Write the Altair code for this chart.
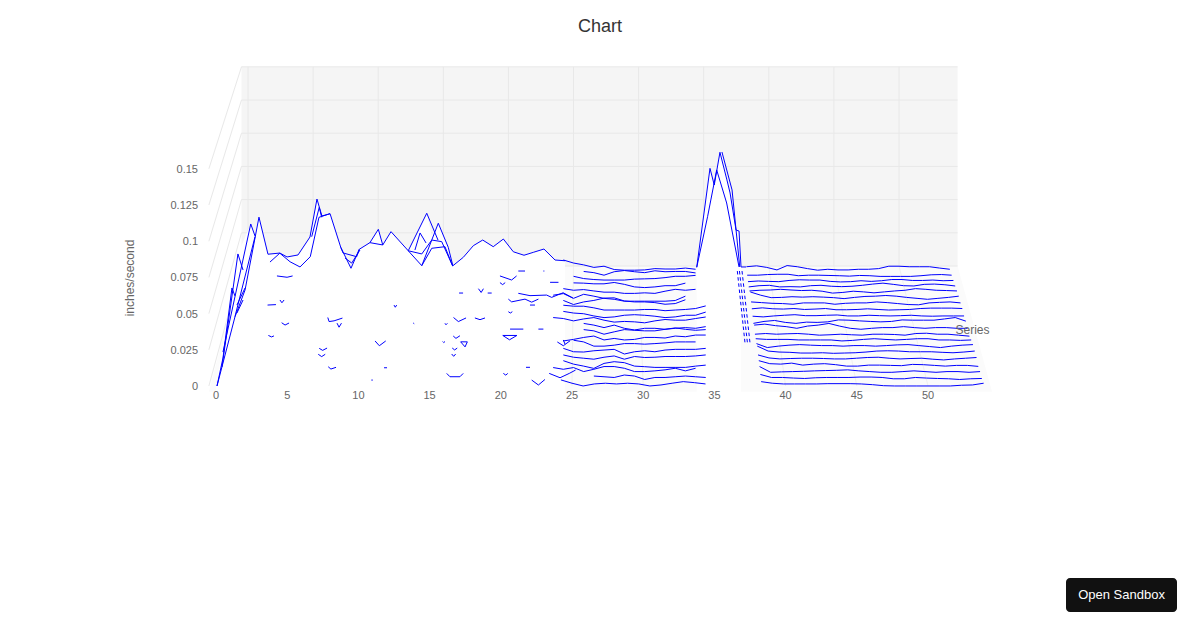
import altair as alt
import pandas as pd

# ---------- data: every value is in 1e-4 inches/second ----------
STEP = 0.78125           # category spacing of samples
N_SERIES = 20

# rows: series index -> (first sample index, values) in the band before the peak
rows_mid = {
    19: (31, [77,54,40,21,30,5,0,0,2,12,9,9,16,7]),
    18: (33, [37,28,9,35,44,35,28,42,35,37,37,26]),
    17: (32, [47,30,23,19,19,19,26,28,30,37,47,47,54]),
    16: (32, [44,42,37,37,47,33,14,9,14,23,23,42]),
    15: (31, [47,35,40,30,21,21,12,12,16,12,28,42,35,42]),
    14: (30, [44,56,21,51,37,21,14,0,0,0,0,0,5,37]),
    13: (31, [51,21,40,51,68,70,47,40,40,35,23,28,56]),
    12: (31, [61,54,54,42,26,26,26,26,30,30,21,26,30,37,56]),
    11: (31, [61,49,44,28,16,21,33,37,33,26,16,21,33,33,56]),
    10: (30, [61,54,37,51,61,42,28,33,30,23,37,47,42,42,54,65]),
    9:  (33, [63,51,33,51,28,16,28,28,21,28,33,28,40]),
    8:  (33, [63,54,30,47,63,58,54,54,65,75,65,58,63]),
    7:  (31, [26,37,51,61,33,44,33,37,51,51,47,61,56,68,68]),
    6:  (32, [75,63,33,33,40,51,51,47,51,56,63,63,63]),
    5:  (31, [61,37,35,44,49,54,21,37,44,37,49,54,54,54,61]),
    4:  (31, [58,42,35,28,42,51,28,47,40,42,47,47,47,51,58]),
    3:  (31, [61,37,23,7,42,54,47,23,19,14,14,14,14,23,30]),
    2:  (30, [56,44,56,28,44,63,63,51,28,28,33,40,51,33,51]),
    1:  (34, [40,35,30,47,40,16,30,30,35,40,35,30]),
    0:  (31, [56,33,14,28,33,28,33,28,14,21,33,44,37,28]),
}

# rows after the peak: samples 49..69
rows_right = {
    19: [26,33,21,2,35,26,12,0,7,2,2,7,7,12,30,30,26,26,26,16,7],
    18: [9,9,14,16,16,5,9,9,7,5,2,7,5,0,0,0,0,5,12,14,9],
    17: [7,12,9,7,16,21,19,19,9,5,7,14,9,14,23,23,16,16,19,14,16],
    16: [14,23,26,14,16,14,23,26,19,16,19,26,35,42,33,23,21,33,35,30,21],
    15: [30,35,37,42,37,33,35,28,14,19,28,23,16,23,30,35,47,42,35,33,30],
    14: [68,44,26,28,33,30,33,30,26,19,28,35,37,42,37,28,21,14,21,28,37],
    13: [40,35,30,28,23,33,33,33,23,30,33,33,40,35,28,21,19,33,37,40,33],
    12: [35,42,35,33,37,30,33,37,28,28,30,35,30,26,28,30,37,40,40,40,37],
    11: [26,21,28,33,37,30,30,33,35,28,28,33,30,28,30,33,28,26,28,28,28],
    10: [19,33,40,26,19,28,26,30,44,42,37,33,30,33,44,42,42,42,51,61,35],
    9:  [51,58,47,40,28,44,51,63,44,28,21,28,33,33,40,33,28,33,33,28,28],
    8:  [30,35,30,33,35,30,23,26,30,26,23,30,30,28,23,35,37,30,30,23,16],
    7:  [42,37,37,37,33,33,33,33,26,30,37,42,37,33,37,42,42,33,33,30,33],
    6:  [51,23,33,40,44,40,37,37,33,37,37,33,37,42,44,37,30,23,33,40,44],
    5:  [77,42,35,33,28,28,30,26,28,30,35,42,44,42,37,37,37,33,30,35,42],
    4:  [58,37,30,33,35,35,33,30,30,35,40,42,35,30,33,35,28,23,30,35,40],
    3:  [61,40,37,44,30,37,40,33,23,23,30,30,28,26,35,33,28,23,28,28,21],
    2:  [63,23,26,28,30,33,35,37,40,33,28,23,23,28,33,28,23,28,28,23,28],
    1:  [51,30,30,26,23,28,30,30,30,33,33,30,21,21,30,26,23,21,16,21,23],
    0:  [44,33,28,28,28,28,30,30,30,28,23,16,14,14,14,14,14,14,19,21,33],
}

# lines and fragments read against the front axes: (category, value)
ridge_cat = [3.02,3.65,4.47,5.20,5.90,6.62,7.23,8.01,8.76,9.48,10.06,10.81,11.71,12.29,13.50,14.45,15.15,15.85,16.62,17.37,18.07,18.73,19.47,20.18,20.88,21.63,22.28,23.03,23.81,24.51]
ridge_val = [1165,910,918,858,822,893,1165,1190,958,813,944,990,974,1066,934,831,1008,997,829,889,969,1008,962,1015,927,903,923,946,870,865]

front_lines = [
    ([3.79,4.49,4.99,5.76,6.60,7.09,7.44,8.01], [856,918,891,905,1029,1291,1174,1190]),
    ([6.72,7.25,7.42], [1031,1234,1165]),
    ([8.76,8.92,9.88,10.06], [958,919,893,944]),
    ([9.06,9.53,10.11], [884,849,939]),
    ([10.81,11.40,11.71], [990,1082,974]),
    ([13.50,14.80,15.59], [934,1193,1008]),
    ([13.50,14.45,15.15], [934,912,1008]),
    ([14.45,15.15,16.08,16.62], [831,951,962,829]),
    ([15.15,15.61,16.31,16.62], [1008,1124,958,836]),
    ([13.97,14.33,14.75], [939,1057,988]),
    ([0.07,0.49,1.12,1.33], [0,193,677,622]),
    ([0.42,1.54,1.90], [131,912,801]),
    ([0.49,2.44,2.74], [235,1119,1036]),
    ([0.07,1.33,2.04,3.02], [0,477,663,1167]),
    ([1.47,1.90], [504,594]),
    ([1.47,2.04], [559,677]),
    ([1.33,2.74], [479,1031]),
    ([33.76,34.69,34.99,35.39,35.88,36.10,36.52,36.73,36.87,37.22], [820,1503,1388,1614,1423,1333,1077,1070,822,822]),
    ([33.76,34.52,35.16,35.86,36.73], [820,1169,1492,1264,822]),
    ([35.53,36.24,36.78], [1616,1354,822]),
]

fragments = [
    ([4.28,4.99,5.38], [760,751,760]),
    ([3.62,4.21], [559,562]),
    ([4.49,4.63,4.78], [594,575,594]),
    ([4.61,4.85,5.13], [437,421,435]),
    ([3.68,3.90,4.07], [349,339,346]),
    ([7.25,7.49,7.80], [260,246,262]),
    ([7.18,7.42,7.67], [219,203,219]),
    ([7.88,8.07,8.43], [133,117,129]),
    ([7.85,7.94,8.29,8.88], [473,445,450,469]),
    ([8.50,8.64,8.81], [434,406,434]),
    ([11.17,11.47,11.92], [311,278,311]),
    ([12.50,12.59,12.69], [559,544,559]),
    ([11.80,12.01], [126,126]),
    ([10.91,11.01], [41,41]),
    ([16.68,17.02,17.56], [473,445,470]),
    ([18.18,18.54,18.89], [470,458,470]),
    ([16.66,16.85,17.13], [345,329,347]),
    ([16.59,16.76,16.94], [262,249,262]),
    ([16.55,16.69,16.83], [221,205,221]),
    ([16.20,16.43,17.13,17.36], [87,64,64,87]),
    ([13.85,13.92], [435,430]),
    ([16.08,16.15,16.25], [433,423,433]),
    ([15.92,15.99,16.08], [307,300,307]),
    ([19.94,20.76,21.11], [760,732,760]),
    ([19.94,20.13,20.31], [714,700,714]),
    ([18.43,18.62,18.78], [672,646,672]),
    ([21.23,22.05,23.22,23.57,24.38,25.06], [640,624,628,612,644,608]),
    ([20.53,20.76,21.70,22.17,22.64], [600,581,600,579,600]),
    ([20.53,20.67,20.81], [513,504,513]),
    ([20.65,21.58], [393,393]),
    ([22.64,22.99], [393,393]),
    ([20.14,20.61,21.13,20.14], [349,319,349,349]),
    ([17.18,17.49,17.65,17.18], [305,270,305,305]),
    ([21.77,22.05], [129,129]),
    ([20.18,20.35,20.49], [87,75,87]),
    ([22.17,22.64,23.10], [41,7,45]),
    ([23.40,24.16,24.81,25.25], [87,57,87,110]),
    ([17.07,17.35], [642,642]),
    ([19.08,19.36], [642,642]),
    ([23.46,24.05], [716,716]),
    ([21.23,21.70], [794,794]),
    ([22.99,23.06], [794,794]),
    ([22.05,22.40], [559,559]),
    ([23.97,24.39,24.86], [304,278,312]),
    ([24.39,24.51], [318,289]),
]

mask_cat = [0,1.12,1.54,2.44,2.74,3.02,3.65,4.47,4.98,5.76,6.60,7.09,7.37,8.01,8.76,9.48,10.06,10.81,11.40,11.71,12.29,13.50,14.80,15.15,15.61,16.31,16.62,17.37,18.07,18.73,19.47,20.18,20.88,21.63,22.28,23.03,23.81,24.51]
mask_val = [0,677,912,1119,1036,1165,910,918,891,905,1029,1291,1174,1190,958,813,944,990,1082,974,1066,934,1193,1040,1124,958,829,889,969,1008,962,1015,927,903,923,946,870,865]
peak_cat = [33.76,34.69,34.99,35.39,35.53,35.88,36.10,36.52,36.73,36.87]
peak_val = [820,1503,1388,1614,1616,1423,1333,1077,1070,822]

# descending strokes of the peak seen between the rows
stroke_cat = [(36.61,37.15),(36.76,37.32),(36.94,37.50)]
stroke_val = (794,297)

x_ticks = list(range(0,51,5))
y_ticks = [0,0.025,0.05,0.075,0.1,0.125,0.15]
y_tick_labels = ["0","0.025","0.05","0.075","0.1","0.125","0.15"]
grid_cats = list(range(0,51,5))

# ---------- projection into the front-axis frame ----------
def page_x(c, d): return 216 + 32*d + c*(14.24 - 1.22*d)
def page_y(v, d): return 386 - 120*d - v*(1448 - 120*d)
def fx(X): return (X-216)/14.24
def fy(Y): return (386-Y)/1448

def row_point(i, k, val, x_depth=None):
    d = i/(N_SERIES-1)
    v = val/10000
    X = page_x(k*STEP, d if x_depth is None else x_depth)
    Y = 388 - 6.2*i - v*(1448-120*d)
    return fx(X), fy(Y)

X0, X1 = fx(8), fx(1192)
Y0, Y1 = fy(622), fy(8)
xs = alt.X('x:Q', scale=alt.Scale(domain=[X0,X1], nice=False, zero=False), axis=None)
ys = alt.Y('y:Q', scale=alt.Scale(domain=[Y0,Y1], nice=False, zero=False), axis=None)

# blue lines
blue = []
uid = 0
def add(points):
    global uid
    for o,(a,b) in enumerate(points):
        blue.append(dict(x=a,y=b,id=uid,o=o))
    uid += 1
for i,(start,vals) in rows_mid.items():
    # the band before the peak converges on the back-wall spacing
    dep = None if i == 0 else 1
    add([row_point(i,start+j,v,dep) for j,v in enumerate(vals)])
for i,vals in rows_right.items():
    add([row_point(i,49+j,v) for j,v in enumerate(vals)])
add(list(zip(ridge_cat,[v/10000 for v in ridge_val])))
for cats,vals in front_lines+fragments:
    add(list(zip(cats,[v/10000 for v in vals])))
blue_df = pd.DataFrame(blue)

dash = []
for n,(a,b) in enumerate(stroke_cat):
    dash += [dict(x=a,y=stroke_val[0]/10000,id=n,o=0),dict(x=b,y=stroke_val[1]/10000,id=n,o=1)]
dash_df = pd.DataFrame(dash)

# frame
LEFT, RIGHT = -0.5, 54.5
wall = pd.DataFrame([
    dict(x=fx(page_x(c,1)), y=fy(page_y(0.15,1)), y2=fy(page_y(0,1))) for c in (LEFT,RIGHT)
])
fl, fr = fx(page_x(LEFT,0)), fx(page_x(RIGHT,0))
bl, br = fx(page_x(LEFT,1)), fx(page_x(RIGHT,1))
base = fy(page_y(0,0))-0.004
back = fy(page_y(0,1))
floor = pd.DataFrame([
    dict(x=fl,y=base,y2=base),dict(x=bl,y=back,y2=base),dict(x=br,y=back,y2=base),dict(x=fr,y=base,y2=base)
])
grid = []
gid = 0
for v in y_ticks:
    for c in (LEFT,RIGHT):
        grid.append(dict(x=fx(page_x(c,1)),y=fy(page_y(v,1)),id=gid))
    gid += 1
    grid.append(dict(x=fx(page_x(LEFT,1)),y=fy(page_y(v,1)),id=gid))
    grid.append(dict(x=fx(page_x(LEFT,0)),y=fy(page_y(v,0)),id=gid))
    gid += 1
for c in grid_cats:
    grid.append(dict(x=fx(page_x(c,1)),y=fy(page_y(0,1)),id=gid))
    grid.append(dict(x=fx(page_x(c,1)),y=fy(page_y(0.15,1)),id=gid))
    gid += 1
grid_df = pd.DataFrame(grid)
fgrid = []
for n,c in enumerate(grid_cats):
    fgrid.append(dict(x=fx(page_x(c,1)),y=fy(page_y(0,1)),id=n))
    fgrid.append(dict(x=fx(page_x(c,0)),y=fy(page_y(0,0)),id=n))
fgrid_df = pd.DataFrame(fgrid)

low = -0.0045
masks = pd.DataFrame(
    [dict(x=c,y=v/10000,y2=low,id=0) for c,v in zip(mask_cat,mask_val)] +
    [dict(x=c,y=v/10000,y2=low,id=1) for c,v in zip(peak_cat,peak_val)]
)

# layers
Y2 = alt.Y2('y2:Q')
wall_l = alt.Chart(wall).mark_area(color='#f5f5f5', orient='vertical').encode(xs, ys, Y2)
floor_l = alt.Chart(floor).mark_area(color='#fbfbfb', orient='vertical').encode(xs, ys, Y2)
fgrid_l = alt.Chart(fgrid_df).mark_line(color='#f0f0f0', strokeWidth=1).encode(xs, ys, detail='id:N', order='y:Q')
grid_l = alt.Chart(grid_df).mark_line(color='#e8e8e8', strokeWidth=1).encode(xs, ys, detail='id:N')
mask_l = alt.Chart(masks).mark_area(color='#ffffff', orient='vertical').encode(xs, ys, Y2, detail='id:N')
blue_l = alt.Chart(blue_df).mark_line(color='#0000ff', strokeWidth=1).encode(xs, ys, detail='id:N', order='o:Q')
dash_l = alt.Chart(dash_df).mark_line(color='#0000ff', strokeWidth=1, strokeDash=[3.5,2.7]).encode(xs, ys, detail='id:N', order='o:Q')

FONT = 'Liberation Sans'
def text(df, **kw):
    return alt.Chart(pd.DataFrame(df)).mark_text(font=FONT, **kw).encode(xs, ys, text='t:N')

title = text([dict(x=fx(600),y=fy(27),t='Chart')], fontSize=18, color='#333333', align='center', baseline='middle')
xlab = text([dict(x=float(c),y=fy(396),t=str(c)) for c in x_ticks], fontSize=11, color='#666666', align='center', baseline='middle')
ylab = text([dict(x=fx(198),y=v-1/1448,t=l) for v,l in zip(y_ticks,y_tick_labels)], fontSize=11, color='#666666', align='right', baseline='middle')
ytitle = text([dict(x=fx(130),y=fy(278),t='inches/second')], fontSize=12, color='#666666', align='center', baseline='middle', angle=270)
ztitle = text([dict(x=fx(972.5),y=fy(330),t='Series')], fontSize=12, color='#666666', align='center', baseline='middle')

button = alt.Chart(pd.DataFrame([dict(x=fx(1066),x2=fx(1177),y=fy(578),y2=fy(612))])).mark_rect(
    color='#111111', cornerRadius=4).encode(xs, alt.X2('x2:Q'), ys, Y2)
btext = text([dict(x=fx(1121.5),y=fy(595),t='Open Sandbox')], fontSize=13, color='#ffffff', align='center', baseline='middle')

chart = alt.layer(wall_l, floor_l, fgrid_l, grid_l, mask_l, dash_l, blue_l,
                  title, xlab, ylab, ytitle, ztitle, button, btext).properties(
    width=1184, height=614, padding=0, autosize=alt.AutoSizeParams(type='none')
).configure_view(stroke=None)

chart.save("out.html", embed_options={"renderer": "svg", "actions": False})
